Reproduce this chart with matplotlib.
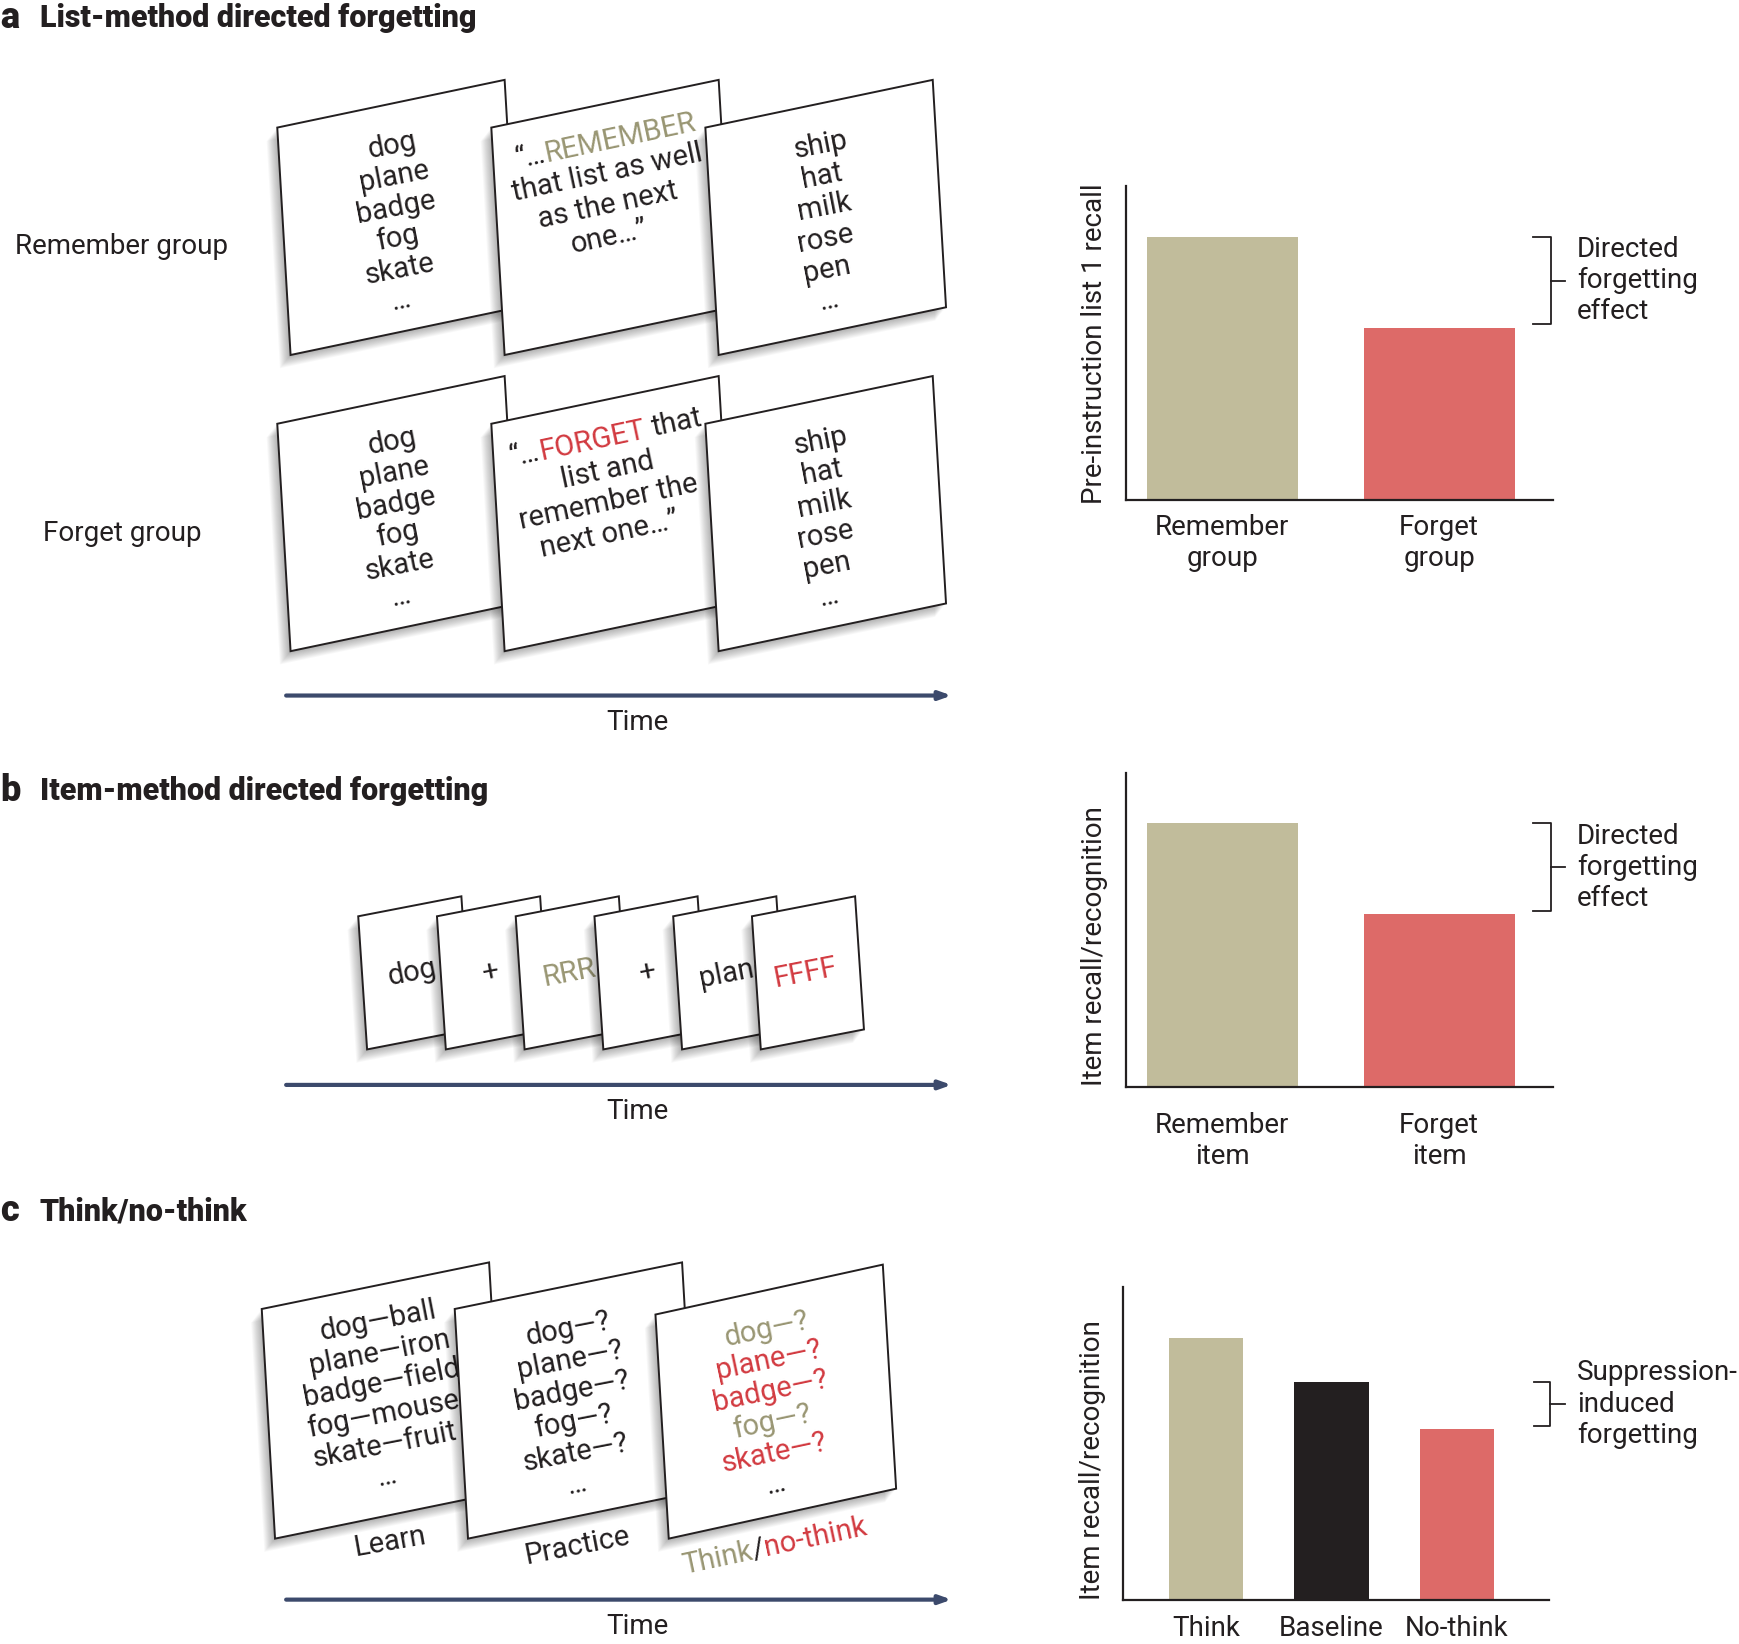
import matplotlib
matplotlib.use('Agg')
import matplotlib.pyplot as plt
from matplotlib.patches import Polygon
from matplotlib.font_manager import FontProperties
import numpy as np

plt.rcParams['font.family'] = ['Roboto', 'DejaVu Sans']

# colours
OLIVE_BAR = '#c1bc9b'
RED_BAR = '#dd6a68'
DARK_BAR = '#231f20'
OLIVE_TXT = '#999673'
RED_TXT = '#d23a40'
INK = '#231f20'
ARROW = '#3c4a6c'

# ---- data ----
a_labels = ['Remember\ngroup', 'Forget\ngroup']
a_values = [0.84, 0.55]
b_labels = ['Remember\nitem', 'Forget\nitem']
b_values = [0.84, 0.55]
c_labels = ['Think', 'Baseline', 'No-think']
c_values = [0.835, 0.695, 0.545]

list1_words = ['dog', 'plane', 'badge', 'fog', 'skate', '…']
list2_words = ['ship', 'hat', 'milk', 'rose', 'pen', '…']
remember_cue = [[('“…', INK), ('REMEMBER', OLIVE_TXT)], [('that list as well', INK)],
                [('as the next', INK)], [('one…”', INK)]]
forget_cue = [[('“…', INK), ('FORGET', RED_TXT), (' that', INK)], [('list and', INK)],
              [('remember the', INK)], [('next one…”', INK)]]
item_seq = [('dog', INK), ('+', INK), ('RRR', OLIVE_TXT), ('+', INK), ('plane', INK), ('FFFF', RED_TXT)]
learn_pairs = ['dog—ball', 'plane—iron', 'badge—field', 'fog—mouse', 'skate—fruit', '…']
practice_cues = ['dog—?', 'plane—?', 'badge—?', 'fog—?', 'skate—?', '…']
tnt_cues = [('dog—?', OLIVE_TXT), ('plane—?', RED_TXT), ('badge—?', RED_TXT),
            ('fog—?', OLIVE_TXT), ('skate—?', RED_TXT), ('…', INK)]

W, H = 1568, 1482          # layout units
S = 1739 / W               # pixels per layout unit
FS = 20                    # body font size
CFS = 21                   # card font size

fig = plt.figure(figsize=(17.39, 16.44), dpi=100)
ov = fig.add_axes([0, 0, 1, 1])
ov.set_xlim(0, W)
ov.set_ylim(H, 0)
ov.axis('off')
renderer = fig.canvas.get_renderer()


def text_line(pieces, cx, cy, ang, fs=CFS, z=5):
    # centred line of (possibly multicoloured) text, rotated by ang
    fp = FontProperties(family=['Roboto', 'DejaVu Sans'], size=fs)
    tw = lambda s: renderer.get_text_width_height_descent(s, fp, ismath=False)[0]
    full = ''.join(s for s, _ in pieces)
    total = tw(full) / S
    c, sn = np.cos(np.radians(ang)), np.sin(np.radians(ang))
    x0 = cx - total / 2 * c
    y0 = cy + total / 2 * sn
    prefix = ''
    for s, col in pieces:
        st = s.lstrip(' ')
        off = (tw(prefix + s) - tw(st)) / S if prefix else 0
        ov.text(x0 + off * c, y0 - off * sn, st, fontproperties=fp, color=col,
                rotation=ang, rotation_mode='anchor', ha='left', va='baseline', zorder=z)
        prefix += s


def card(x0, y0, w, h, dy, dx, z):
    pts = np.array([(x0, y0), (x0 + w, y0 - dy), (x0 + w + dx, y0 - dy + h), (x0 + dx, y0 + h)])
    for k in range(1, 13):
        ov.add_patch(Polygon(pts + [-k * 0.8, k * 1.0], closed=True, facecolor='black',
                             edgecolor='none', alpha=0.028, zorder=z))
    ov.add_patch(Polygon(pts, closed=True, facecolor='white', edgecolor=INK, lw=1.4, zorder=z + 1))


def word_card(x0, y0, lines, rx, ry, step, ang, z, w=205, h=205, dy=43, dx=12, drift=1.6):
    card(x0, y0, w, h, dy, dx, z)
    for i, ln in enumerate(lines):
        pieces = ln if isinstance(ln, list) else [ln] if isinstance(ln, tuple) else [(ln, INK)]
        text_line(pieces, x0 + rx + drift * i, y0 + ry + step * i, ang, z=z + 2)


def arrow(y):
    ov.annotate('', xy=(858, y), xytext=(258, y),
                arrowprops=dict(arrowstyle='-|>,head_length=0.7,head_width=0.25',
                                color=ARROW, lw=3, shrinkA=0, shrinkB=0))
    ov.text(575, y + 24, 'Time', fontsize=FS, color=INK, ha='center', va='center')


def title(y, letter, txt):
    ov.text(0, y + 1, letter, fontsize=26, fontweight='black', color=INK, ha='left', va='center')
    ov.text(36, y + 1, txt, fontsize=22, fontweight='black', color=INK, ha='left', va='center')


# ---------------- panel a ----------------
title(15, 'a', 'List-method directed forgetting')
ov.text(110, 222, 'Remember group', fontsize=FS, color=INK, ha='center', va='center')
ov.text(110, 481, 'Forget group', fontsize=FS, color=INK, ha='center', va='center')

for row, (yy, cue, ry) in enumerate([(115, remember_cue, 19), (382, forget_cue, 20)]):
    word_card(250, yy, list1_words, 105, 23, 28, 11, 10)
    word_card(443, yy, cue, 105, ry, 29, 12, 13, drift=1.0)
    word_card(636, yy, list2_words, 105, 23, 28, 11, 16)
arrow(627)

# ---------------- panel b ----------------
title(712, 'b', 'Item-method directed forgetting')
for i, (s, col) in enumerate(item_seq):
    x0 = 323 + 71 * i
    card(x0, 826, 93, 120, 18, 8, 10 + 3 * i)
    rx = 56 if s == 'plane' else 50
    text_line([(s, col)], x0 + rx, 884, 11, z=12 + 3 * i)
arrow(978)

# ---------------- panel c ----------------
title(1091, 'c', 'Think/no-think')
word_card(236, 1180, learn_pairs, 106, 18, 28, 11, 10, h=207, dy=42)
word_card(410, 1180, practice_cues, 104, 25, 28, 11, 13, h=207, dy=42)
word_card(591, 1185, tnt_cues, 102, 20, 28, 12, 16, h=202, dy=45)
text_line([('Learn', INK)], 353, 1397, 10, z=30)
text_line([('Practice', INK)], 522, 1401, 11, z=30)
text_line([('Think', OLIVE_TXT), ('/', INK), ('no-think', RED_TXT)], 700, 1401, 12, z=30)
arrow(1442)


# ---------------- bar charts ----------------
def bar_panel(l, top, r, bot, labels, values, colors, width, xlim, ylabel, ylab_y, pad,
              btext, bx):
    ax = fig.add_axes([l / W, 1 - bot / H, (r - l) / W, (bot - top) / H])
    ax.bar(range(len(values)), values, width=width, color=colors)
    ax.set_xlim(*xlim)
    ax.set_ylim(0, 1)
    for sp in ['top', 'right']:
        ax.spines[sp].set_visible(False)
    for sp in ['left', 'bottom']:
        ax.spines[sp].set_color(INK)
        ax.spines[sp].set_linewidth(1.6)
    ax.set_yticks([])
    ax.set_xticks(range(len(labels)))
    ax.set_xticklabels(labels, fontsize=FS, color=INK, linespacing=1.2)
    ax.tick_params(axis='x', length=0, pad=pad)
    ax.set_ylabel(ylabel, fontsize=FS, color=INK)
    ax.yaxis.set_label_coords(-0.042, ylab_y)
    ax.patch.set_alpha(0)
    # bracket
    tr = ax.get_yaxis_transform()
    yt, yb = values[0] if len(values) == 2 else values[1], values[-1] + 0.01
    ym = (yt + yb) / 2
    kw = dict(color=INK, lw=1.3, transform=tr, clip_on=False)
    ax.plot([bx[0], bx[1], bx[1], bx[0]], [yt, yt, yb, yb], **kw)
    ax.plot([bx[1], bx[2]], [ym, ym], **kw)
    ax.text(bx[3], ym, btext, transform=tr, fontsize=FS, color=INK, ha='left', va='center',
            linespacing=1.2)
    return ax


bar_panel(1015, 168, 1400, 451, a_labels, a_values, [OLIVE_BAR, RED_BAR], 0.696,
          (-0.445, 1.524), 'Pre-instruction list 1 recall', 0.5, 10,
          'Directed\nforgetting\neffect', (0.953, 0.995, 1.029, 1.057))
bar_panel(1015, 697, 1400, 980, b_labels, b_values, [OLIVE_BAR, RED_BAR], 0.696,
          (-0.445, 1.524), 'Item recall/recognition', 0.449, 18,
          'Directed\nforgetting\neffect', (0.953, 0.995, 1.029, 1.057))
bar_panel(1013, 1160, 1397, 1442, c_labels, c_values, [OLIVE_BAR, DARK_BAR, RED_BAR], 0.593,
          (-0.659, 2.739), 'Item recall/recognition', 0.447, 11,
          'Suppression-\ninduced\nforgetting', (0.9635, 1.0026, 1.036, 1.065))

fig.savefig('out.png', dpi=100)
